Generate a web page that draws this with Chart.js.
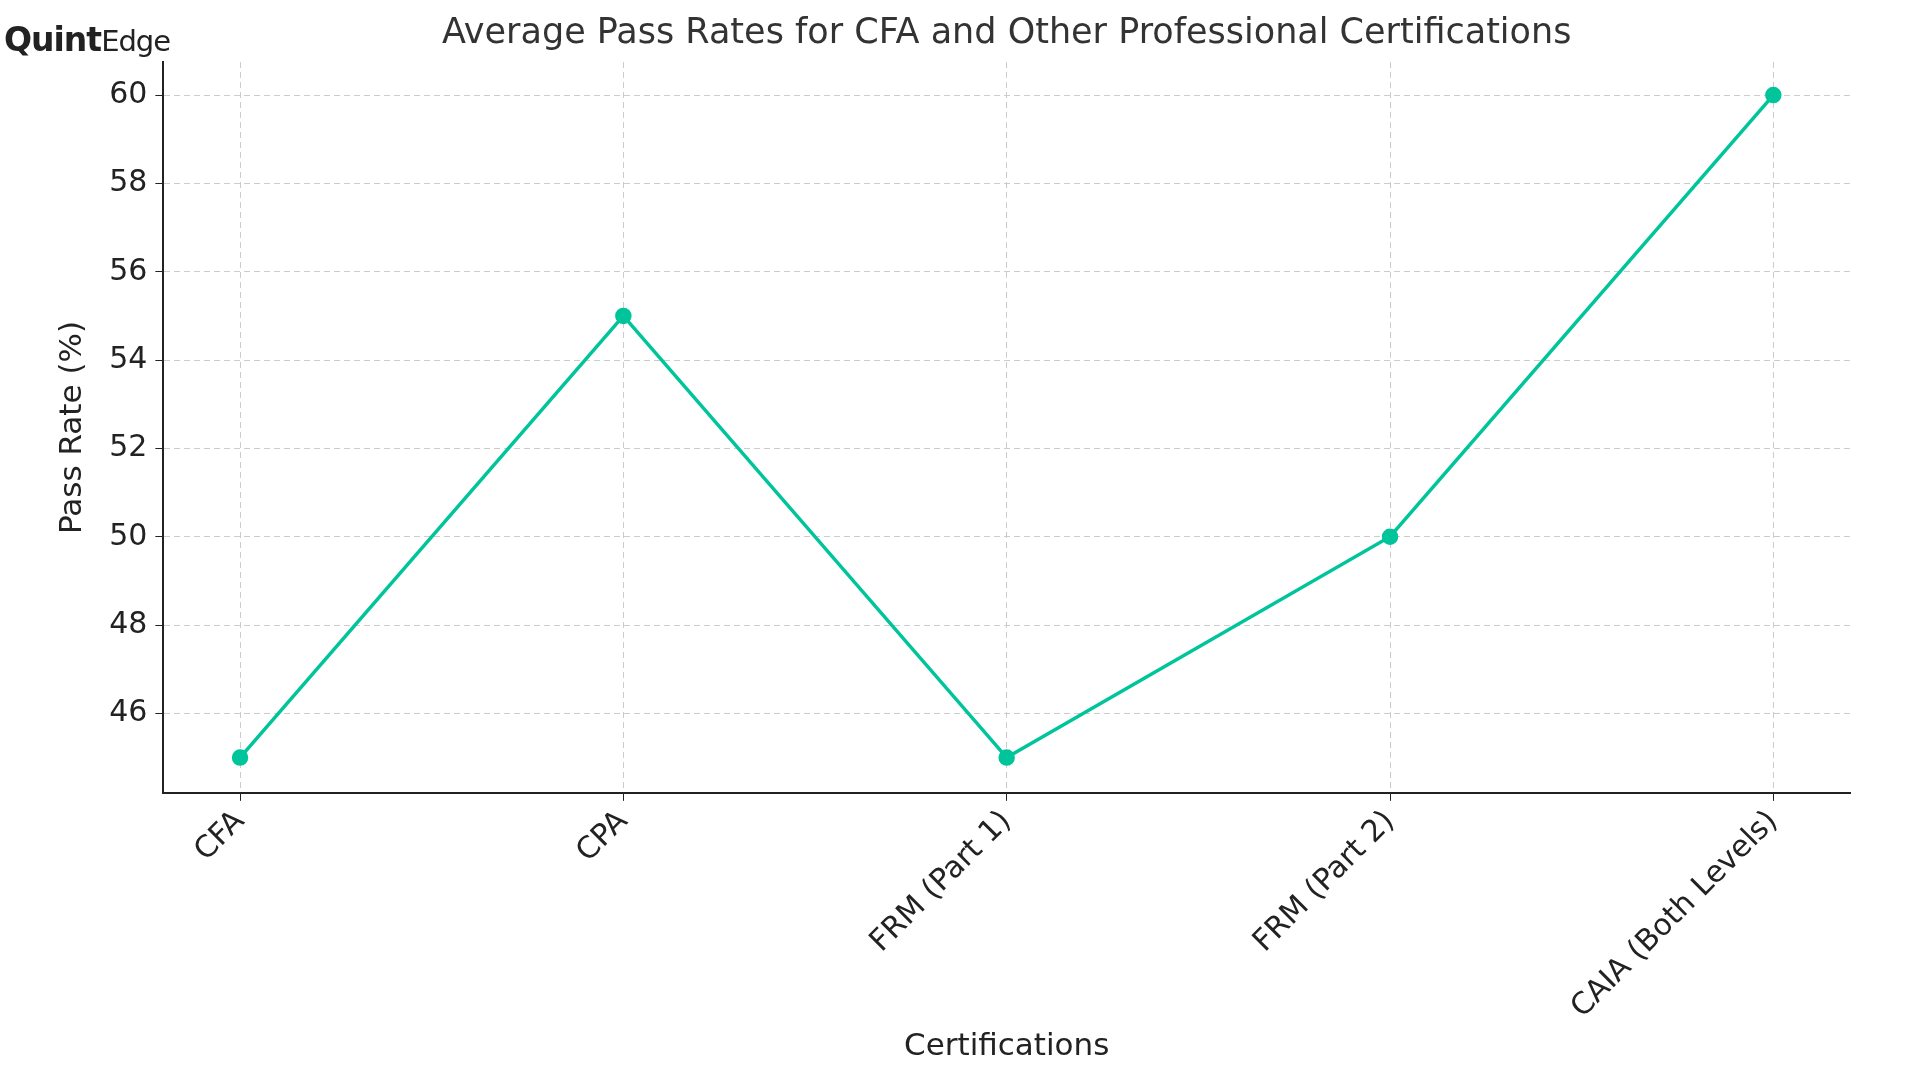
<!DOCTYPE html>
<html>
<head>
<meta charset="utf-8">
<script src="https://cdn.jsdelivr.net/npm/chart.js@4"></script>
<style>
  html, body { margin: 0; padding: 0; background: #fff; }
  #wrap { position: relative; width: 1920px; height: 1080px; }
  #logo { position: absolute; left: 4px; top: 20px; font-family: "DejaVu Sans", sans-serif; font-size: 29px; color: #222; letter-spacing: -1px; }
  #logo b { font-size: 33px; }
</style>
</head>
<body>
<div id="wrap">
  <canvas id="chart" width="1920" height="1080"></canvas>
  <div id="logo"><b>Quint</b>Edge</div>
</div>
<script>
// Daten
const categories = ["CFA", "CPA", "FRM (Part 1)", "FRM (Part 2)", "CAIA (Both Levels)"];
const passRates = [45, 55, 45, 50, 60];
const yTicks = [46, 48, 50, 52, 54, 56, 58, 60];
const titleText = "Average Pass Rates for CFA and Other Professional Certifications";

const lineColor = "#00c49a";
const gridColor = "#cccccc";
const font = "DejaVu Sans";

// Titel über der Zeichenfläche zentrieren
const centeredTitle = {
    id: "centeredTitle",
    afterDraw(chart) {
        const c = chart.ctx;
        const area = chart.chartArea;
        c.save();
        c.font = `35px "${font}"`;
        c.fillStyle = "#333";
        c.textAlign = "center";
        c.textBaseline = "middle";
        c.fillText(titleText, (area.left + area.right) / 2, 34);
        c.restore();
    }
};

const ctx = document.getElementById("chart").getContext("2d");

new Chart(ctx, {
    type: "line",
    data: {
        datasets: [{
            data: passRates.map((v, i) => ({ x: i, y: v })),
            borderColor: lineColor,
            backgroundColor: lineColor,
            borderWidth: 3.5,
            pointRadius: 6.5,
            pointHoverRadius: 6.5,
            tension: 0
        }]
    },
    options: {
        responsive: false,
        animation: false,
        layout: { padding: { left: 50, right: 70, top: 62, bottom: 10 } },
        plugins: {
            legend: { display: false },
            tooltip: { enabled: false },
            title: { display: false }
        },
        scales: {
            x: {
                type: "linear",
                min: -0.2,
                max: 4.2,
                afterBuildTicks: (axis) => { axis.ticks = categories.map((c, i) => ({ value: i })); },
                ticks: {
                    callback: (v) => categories[v],
                    color: "#222",
                    font: { family: font, size: 30 },
                    maxRotation: 45,
                    minRotation: 45,
                    autoSkip: false
                },
                grid: { color: gridColor, tickColor: "#222", tickLength: 8, lineWidth: 1 },
                border: { color: "#222", width: 2, dash: [6, 4] },
                title: {
                    display: true,
                    text: "Certifications",
                    color: "#222",
                    font: { family: font, size: 31 },
                    padding: { top: 0 }
                }
            },
            y: {
                min: 44.2,
                max: 60.75,
                afterBuildTicks: (axis) => { axis.ticks = yTicks.map(v => ({ value: v })); },
                ticks: {
                    color: "#222",
                    font: { family: font, size: 30 },
                    padding: 8
                },
                grid: { color: gridColor, tickColor: "#222", tickLength: 8, lineWidth: 1 },
                border: { color: "#222", width: 2, dash: [6, 4] },
                title: {
                    display: true,
                    text: "Pass Rate (%)",
                    color: "#222",
                    font: { family: font, size: 31 },
                    padding: { bottom: 10 }
                }
            }
        }
    },
    plugins: [centeredTitle]
});
</script>
</body>
</html>
